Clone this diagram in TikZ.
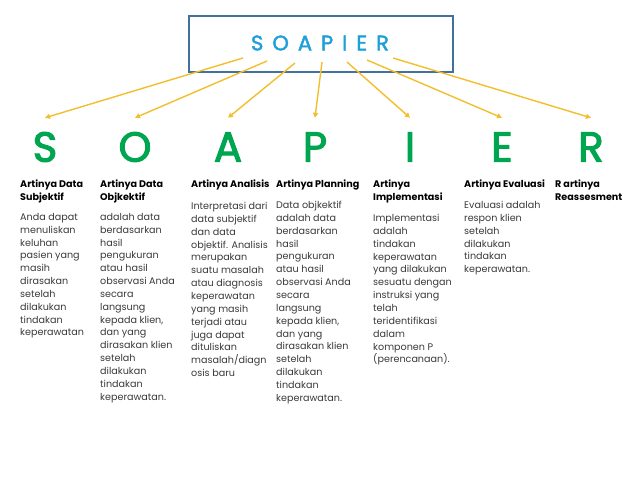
\documentclass[tikz,border=0pt]{standalone}
\usepackage{fontspec}
\setmainfont{Poppins}
\usetikzlibrary{arrows.meta}
\definecolor{boxblue}{HTML}{41719C}
\definecolor{titleblue}{HTML}{1E9FD8}
\definecolor{lettergreen}{HTML}{00A550}
\definecolor{arrowyellow}{HTML}{F2BE2C}
\definecolor{bodygray}{HTML}{3A3A3A}
\begin{document}
\begin{tikzpicture}[x=1pt,y=-1pt,
  titlebox/.style={draw=boxblue, line width=2pt, minimum width=264pt, minimum height=56pt, inner sep=0pt, anchor=north west},
  bigletter/.style={text=lettergreen, font=\fontsize{42}{42}\selectfont\addfontfeature{FakeBold=2.5}, minimum height=58pt, inner sep=0pt},
  arr/.style={draw=arrowyellow, line width=1.4pt, -{Triangle[length=5pt,width=5pt]}},
  head/.style={anchor=north west, align=left, inner sep=0pt, text=black, font=\fontsize{9.6}{12.8}\selectfont\bfseries},
  body/.style={anchor=north west, align=left, inner sep=0pt, text=bodygray, font=\fontsize{9.6}{12.85}\selectfont}]
\useasboundingbox (0,0) rectangle (638,479);
\node[titlebox] (box) at (188,15) {};
\node[text=titleblue, font=\fontsize{21}{21}\selectfont\addfontfeature{FakeBold=2}] (title) at (320,43)
  {S\kern9pt O\kern9pt A\kern9pt P\kern9pt I\kern9pt E\kern9pt R};
% letters
\node[bigletter] (lS) at (45,147) {S};
\node[bigletter] (lO) at (135,147) {O};
\node[bigletter] (lA) at (228,147) {A};
\node[bigletter] (lP) at (315,147) {P};
\node[bigletter] (lI) at (410,147) {I};
\node[bigletter] (lE) at (502,147) {E};
\node[bigletter] (lR) at (591,147) {R};
% arrow starts
\coordinate (a1) at (243,58);
\coordinate (a2) at (267,61);
\coordinate (a3) at (295,63);
\coordinate (a4) at (322,62);
\coordinate (a5) at (347,62);
\coordinate (a6) at (367,60);
\coordinate (a7) at (393,58);
\draw[arr] (a1) -- (lS.north);
\draw[arr] (a2) -- (lO.north);
\draw[arr] (a3) -- (lA.north);
\draw[arr] (a4) -- (lP.north);
\draw[arr] (a5) -- (lI.north);
\draw[arr] (a6) -- (lE.north);
\draw[arr] (a7) -- (lR.north);
% headers
\node[head] (h1) at (20,180) {Artinya Data\\Subjektif};
\node[head] (h2) at (100,180) {Artinya Data\\Objkektif};
\node[head] (h3) at (191,180) {Artinya Analisis};
\node[head] (h4) at (276,180) {Artinya Planning};
\node[head] (h5) at (373,180) {Artinya\\Implementasi};
\node[head] (h6) at (464,180) {Artinya Evaluasi};
\node[head] (h7) at (555,180) {R artinya\\Reassesment};
% bodies
\node[body] (b1) at (20,213) {Anda dapat\\menuliskan\\keluhan\\pasien yang\\masih\\dirasakan\\setelah\\dilakukan\\tindakan\\keperawatan};
\node[body] (b2) at (100,213) {adalah data\\berdasarkan\\hasil\\pengukuran\\atau hasil\\observasi Anda\\secara\\langsung\\kepada klien,\\dan yang\\dirasakan klien\\setelah\\dilakukan\\tindakan\\keperawatan.};
\node[body] (b3) at (191,202) {Interpretasi dari\\data subjektif\\dan data\\objektif. Analisis\\merupakan\\suatu masalah\\atau diagnosis\\keperawatan\\yang masih\\terjadi atau\\juga dapat\\dituliskan\\masalah/diagn\\osis baru};
\node[body] (b4) at (276,201) {Data objkektif\\adalah data\\berdasarkan\\hasil\\pengukuran\\atau hasil\\observasi Anda\\secara\\langsung\\kepada klien,\\dan yang\\dirasakan klien\\setelah\\dilakukan\\tindakan\\keperawatan.};
\node[body] (b5) at (373,214) {Implementasi\\adalah\\tindakan\\keperawatan\\yang dilakukan\\sesuatu dengan\\instruksi yang\\telah\\teridentifikasi\\dalam\\komponen P\\(perencanaan).};
\node[body] (b6) at (464,201) {Evaluasi adalah\\respon klien\\setelah\\dilakukan\\tindakan\\keperawatan.};
\end{tikzpicture}
\end{document}
